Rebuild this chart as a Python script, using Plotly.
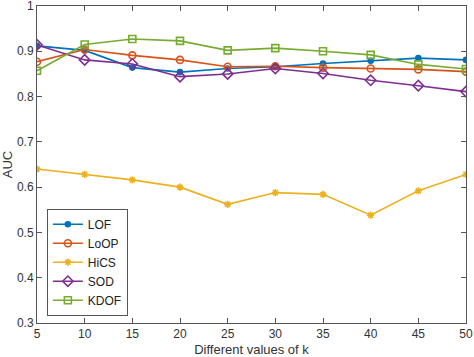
import plotly.graph_objects as go

k_values = [5, 10, 15, 20, 25, 30, 35, 40, 45, 50]
lof = [0.912, 0.902, 0.864, 0.854, 0.862, 0.866, 0.873, 0.879, 0.885, 0.881]
loop = [0.877, 0.904, 0.891, 0.881, 0.866, 0.867, 0.864, 0.862, 0.860, 0.855]
hics = [0.640, 0.628, 0.616, 0.600, 0.562, 0.588, 0.584, 0.538, 0.592, 0.628]
sod = [0.914, 0.881, 0.872, 0.844, 0.850, 0.862, 0.851, 0.836, 0.824, 0.811]
kdof = [0.857, 0.915, 0.927, 0.923, 0.902, 0.907, 0.900, 0.892, 0.871, 0.861]
x_ticks = [5, 10, 15, 20, 25, 30, 35, 40, 45, 50]
y_ticks = [0.3, 0.4, 0.5, 0.6, 0.7, 0.8, 0.9, 1.0]
y_tick_labels = ["0.3", "0.4", "0.5", "0.6", "0.7", "0.8", "0.9", "1"]

series = [
    ("LOF", lof, "#0072BD", "circle", 5),
    ("LoOP", loop, "#D95319", "circle-open", 7),
    ("HiCS", hics, "#EDB120", "asterisk-open", 6),
    ("SOD", sod, "#7E2F8E", "diamond-open", 8),
    ("KDOF", kdof, "#77AC30", "square-open", 7),
]

fig = go.Figure()
for name, vals, color, sym, size in series:
    fig.add_trace(go.Scatter(
        x=k_values, y=vals, name=name, mode="lines+markers",
        line=dict(color=color, width=1.6),
        marker=dict(symbol=sym, size=size, color=color,
                    line=dict(color=color, width=1.6)),
    ))

axis_common = dict(
    showline=True, linecolor="#555555", linewidth=1, mirror="ticks",
    ticks="inside", ticklen=5, tickcolor="#555555", showgrid=False,
    zeroline=False, tickfont=dict(size=12, color="#333333"),
    ticklabeloverflow="allow", automargin=False,
)

fig.update_layout(
    width=474, height=357,
    margin=dict(l=37, r=8, t=6, b=34),
    paper_bgcolor="white", plot_bgcolor="white",
    font=dict(family="Liberation Sans, Arial, sans-serif", color="#333333"),
    xaxis=dict(range=[5, 50], tickvals=x_ticks,
               title=dict(text="Different values of k", font=dict(size=13), standoff=4),
               **axis_common),
    yaxis=dict(range=[0.3, 1.0], tickvals=y_ticks, ticktext=y_tick_labels,
               title=dict(text="AUC", font=dict(size=13), standoff=6),
               **axis_common),
    legend=dict(x=0.023, y=0.023, xanchor="left", yanchor="bottom",
                bgcolor="white", bordercolor="#555555", borderwidth=1,
                font=dict(size=12, color="#222222"),
                tracegroupgap=0, itemwidth=30),
    showlegend=True,
)

fig.write_html("out.html", config={"displayModeBar": False, "responsive": False})

# remove default page margin so the figure sits at the window's top-left corner
with open("out.html", "r", encoding="utf-8") as f:
    html = f.read()
html = html.replace("<head>", "<head><style>body{margin:0;}</style>", 1)
with open("out.html", "w", encoding="utf-8") as f:
    f.write(html)
